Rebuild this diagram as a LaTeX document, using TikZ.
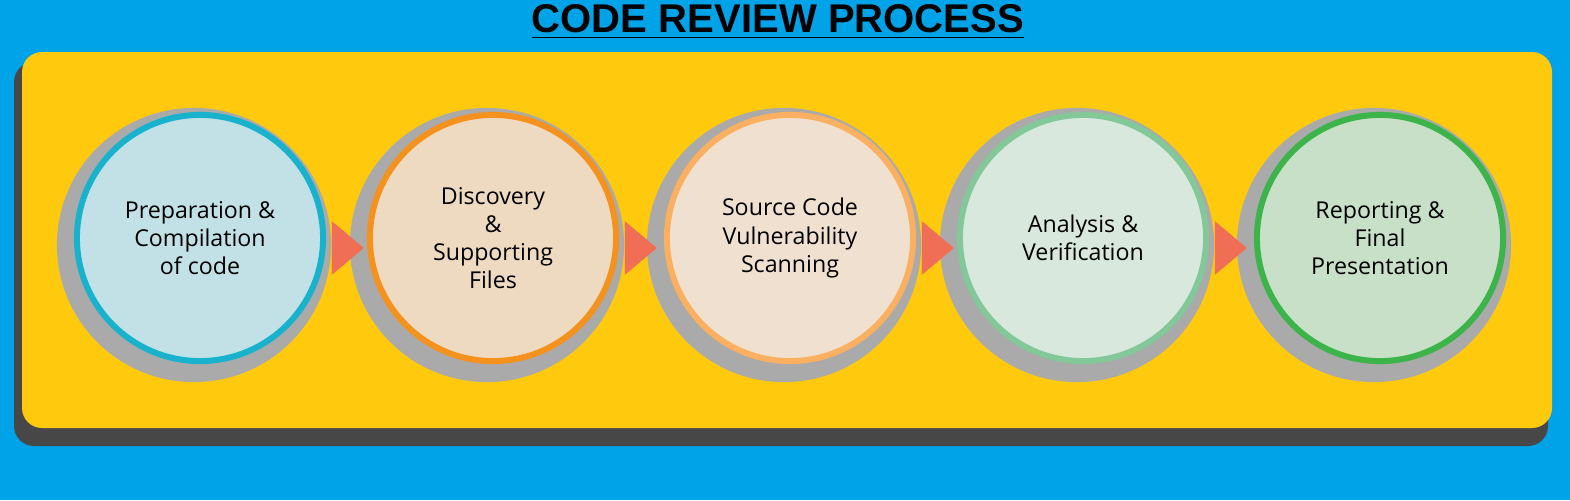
\documentclass[tikz,border=0pt]{standalone}
\usepackage{fontspec}
\setmainfont{Open Sans}
\newfontfamily\titlefont{Liberation Sans}
\usetikzlibrary{shapes.geometric, positioning}
\definecolor{skyblue}{RGB}{0, 162, 232}
\definecolor{panelyellow}{RGB}{255, 201, 14}
\definecolor{arrowred}{RGB}{240, 110, 85}
\definecolor{ringgray}{RGB}{170, 170, 170}
\definecolor{fillA}{RGB}{193, 225, 230}
\definecolor{edgeA}{RGB}{24, 178, 204}
\definecolor{fillB}{RGB}{238, 218, 192}
\definecolor{edgeB}{RGB}{245, 146, 30}
\definecolor{fillC}{RGB}{240, 224, 208}
\definecolor{edgeC}{RGB}{250, 176, 96}
\definecolor{fillD}{RGB}{216, 232, 220}
\definecolor{edgeD}{RGB}{130, 200, 152}
\definecolor{fillE}{RGB}{200, 224, 200}
\definecolor{edgeE}{RGB}{60, 180, 74}
\tikzset{
  stagecircle/.style={circle, minimum size=2.46cm, line width=0.6mm, align=center,
    inner sep=0pt, font=\fontsize{6.6}{8}\selectfont},
  shadowring/.style={circle, fill=ringgray, minimum size=2.74cm, inner sep=0pt},
  flowtip/.style={isosceles triangle, isosceles triangle apex angle=80, fill=arrowred,
    minimum height=0.32cm, inner sep=0pt, anchor=west},
}
\begin{document}
\begin{tikzpicture}[x=0.01cm, y=-0.01cm]
  \fill[skyblue] (0, 0) rectangle (1570, 500);
  \useasboundingbox (0, 0) rectangle (1570, 500);
  % title
  \node[font=\titlefont\bfseries\fontsize{11.4}{13}\selectfont] (title) at (778, 22)
    {\underline{CODE REVIEW PROCESS}};

  % panel with its shadow
  \fill[black!72, rounded corners=0.2cm] (14, 62) rectangle (1548, 446);
  \fill[panelyellow, rounded corners=0.2cm] (22, 52) rectangle (1552, 428);

  % stages
  \foreach \cx/\lbl/\fc/\ec/\txt in {
      200/prep/fillA/edgeA/{Preparation \&\\Compilation\\of code},
      493/disc/fillB/edgeB/{Discovery\\\&\\Supporting\\Files},
      790/scan/fillC/edgeC/{Source Code\\Vulnerability\\Scanning},
      1083/anal/fillD/edgeD/{Analysis \&\\Verification},
      1380/rept/fillE/edgeE/{Reporting \&\\Final\\Presentation}} {
    \node[shadowring] (\lbl-sh) at (\cx-6, 245) {};
    \node[stagecircle, fill=\fc, draw=\ec] (\lbl) at (\cx, 238) {\txt};
  }

  % arrows between stages
  \foreach \a in {prep, disc, scan, anal} {
    \node[flowtip] (\a-tip) at ([xshift=0.05cm, yshift=-0.1cm]\a.east) {};
  }
\end{tikzpicture}
\end{document}
